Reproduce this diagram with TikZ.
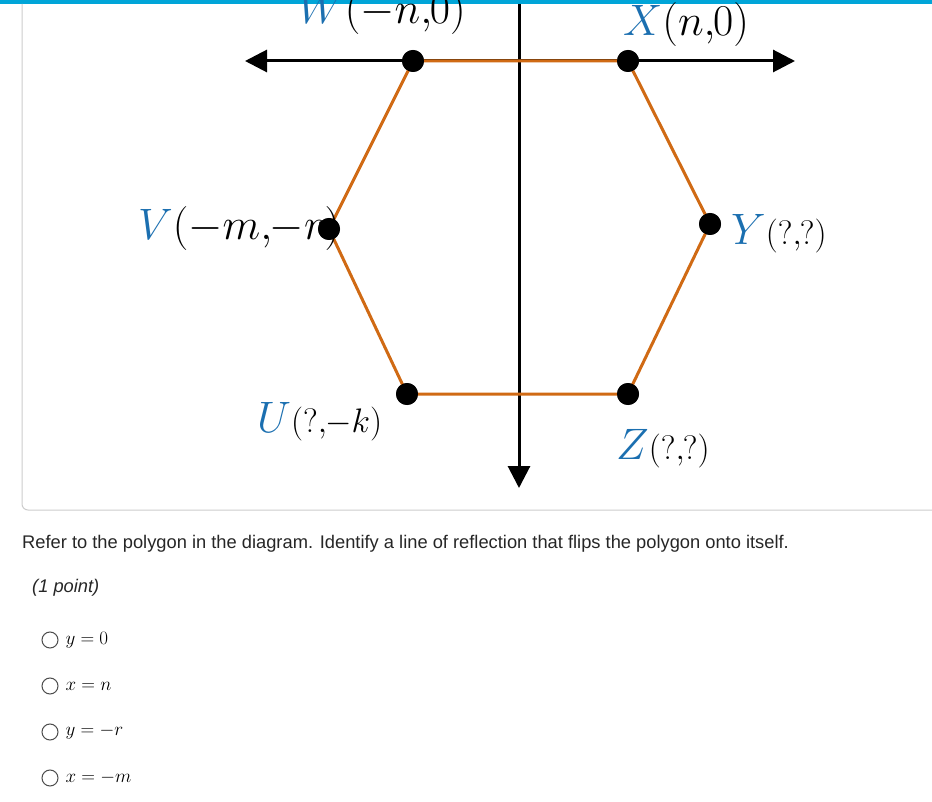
\RequirePackage{fix-cm}
\documentclass[tikz,border=0pt]{standalone}
\usepackage{fontspec}
\newfontfamily\sans{Liberation Sans}
\usetikzlibrary{arrows.meta}
\definecolor{topbar}{HTML}{00A5D8}
\definecolor{lbl}{HTML}{1B6FB0}
\definecolor{hex}{HTML}{D06A14}
\newcommand\mysep{\mskip-4mu}
\begin{document}
\begin{tikzpicture}[x=1pt,y=-1pt,
  dot/.style={circle,fill=black,inner sep=0pt,minimum size=22pt},
  rad/.style={circle,draw=black!70,line width=1pt,inner sep=0pt,minimum size=16pt},
  opt/.style={anchor=west,font=\fontsize{19}{19}\selectfont}]
\useasboundingbox (0,0) rectangle (932,802);
\fill[topbar] (0,0) rectangle (932,4);
\draw[black!20,line width=1pt] (932,510) -- (28,510) arc[start angle=90,end angle=180,radius=6] -- (22,4);
\draw[line width=3pt,-{Triangle[length=22pt,width=22pt]}] (519,4) -- (519,488);
\draw[line width=3pt,{Triangle[length=22pt,width=22pt]}-{Triangle[length=22pt,width=22pt]}] (245,61) -- (795,61);
\node[dot] (W) at (413,61) {};
\node[dot] (X) at (628,61) {};
\node[dot] (Y) at (710,224) {};
\node[dot] (Z) at (628,394) {};
\node[dot] (U) at (407,394) {};
\node[dot] (V) at (329,229) {};
\draw[hex,line width=3pt] (W.center)--(X.center)--(Y.center)--(Z.center)--(U.center)--(V.center)--cycle;
\foreach \p in {W,X,Y,Z,U,V} \fill (\p) circle (11);
\node[anchor=base west,inner sep=0pt] (lW) at (298,24) {\fontsize{44}{44}\selectfont\textcolor{lbl}{$W$}$(-n,\mysep0)$};
\node[anchor=base west,inner sep=0pt] (lX) at (623,36) {\fontsize{44}{44}\selectfont\textcolor{lbl}{$X$}$(n,\mysep0)$};
\node[anchor=base west,inner sep=0pt] (lV) at (138,240) {\fontsize{44}{44}\selectfont\textcolor{lbl}{$V$}$(-m,\mysep-r)$};
\node[anchor=base west,inner sep=0pt] (lY) at (731,245) {\fontsize{44}{44}\selectfont\textcolor{lbl}{$Y$}\fontsize{34}{34}\selectfont$(?,\mysep?)$};
\node[anchor=base west,inner sep=0pt] (lU) at (257,432) {\fontsize{44}{44}\selectfont\textcolor{lbl}{$U$}\fontsize{34}{34}\selectfont$(?,\mysep-k)$};
\node[anchor=base west,inner sep=0pt] (lZ) at (616,459) {\fontsize{44}{44}\selectfont\textcolor{lbl}{$Z$}\fontsize{34}{34}\selectfont$(?,\mysep?)$};
\node[anchor=base west,inner sep=0pt,font=\sans\fontsize{18.3}{19}\selectfont,text=black!85] (q) at (22,548) {Refer to the polygon in the diagram. Identify a line of reflection that flips the polygon onto itself.};
\node[anchor=base west,inner sep=0pt,font=\sans\itshape\fontsize{18.3}{19}\selectfont,text=black!85] (pt) at (32,592) {(1 point)};
\foreach \yy/\t [count=\i] in {640/{y=0},686/{x=n},732/{y=-r},778/{x=-m}}{
  \node[rad] (r\i) at (50,\yy) {};
  \node[opt] (o\i) at (62,\yy) {$\t$};
}
\end{tikzpicture}
\end{document}
